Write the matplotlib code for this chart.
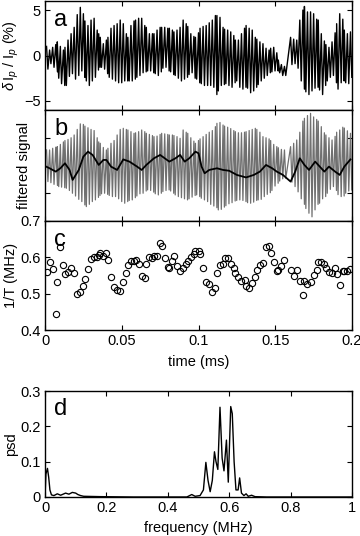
import numpy as np
import matplotlib
matplotlib.use("Agg")
import matplotlib.pyplot as plt

plt.rcParams['font.family'] = ['Liberation Sans', 'DejaVu Sans']
plt.rcParams['mathtext.fontset'] = 'custom'
plt.rcParams['mathtext.rm'] = 'Liberation Sans'
plt.rcParams['mathtext.it'] = 'Liberation Sans:italic'

# ---- data ----

# panel c: one point per oscillation period (time in ms, 1/T in MHz)
cycle_t = [0.001, 0.003, 0.005, 0.007, 0.008, 0.010, 0.012, 0.013, 0.015, 0.017,
           0.019, 0.021, 0.023, 0.025, 0.026, 0.028, 0.030, 0.032, 0.034, 0.035,
           0.036, 0.038, 0.040, 0.041, 0.043, 0.045, 0.047, 0.049, 0.051, 0.053,
           0.054, 0.056, 0.058, 0.059, 0.061, 0.063, 0.065, 0.066, 0.068, 0.070,
           0.071, 0.073, 0.075, 0.076, 0.078, 0.080, 0.081, 0.083, 0.084, 0.086,
           0.088, 0.090, 0.092, 0.093, 0.095, 0.097, 0.098, 0.100, 0.101, 0.103,
           0.105, 0.107, 0.109, 0.111, 0.112, 0.114, 0.116, 0.117, 0.119, 0.121,
           0.123, 0.124, 0.126, 0.128, 0.130, 0.131, 0.133, 0.135, 0.137, 0.138,
           0.140, 0.142, 0.144, 0.146, 0.147, 0.149, 0.151, 0.152, 0.154, 0.156,
           0.160, 0.162, 0.164, 0.166, 0.168, 0.169, 0.171, 0.173, 0.175, 0.177,
           0.178, 0.180, 0.182, 0.183, 0.185, 0.187, 0.189, 0.190, 0.192, 0.194,
           0.195, 0.197, 0.199]
cycle_f = [0.560, 0.588, 0.568, 0.444, 0.532, 0.628, 0.580, 0.553, 0.560, 0.570,
           0.558, 0.499, 0.504, 0.521, 0.541, 0.569, 0.596, 0.600, 0.601, 0.606,
           0.613, 0.603, 0.613, 0.592, 0.545, 0.517, 0.510, 0.507, 0.532, 0.557,
           0.580, 0.590, 0.590, 0.594, 0.583, 0.550, 0.543, 0.583, 0.602, 0.599,
           0.605, 0.605, 0.640, 0.631, 0.599, 0.574, 0.570, 0.591, 0.605, 0.577,
           0.563, 0.570, 0.582, 0.589, 0.602, 0.608, 0.618, 0.617, 0.609, 0.570,
           0.533, 0.527, 0.505, 0.516, 0.558, 0.580, 0.583, 0.597, 0.597, 0.582,
           0.572, 0.558, 0.547, 0.536, 0.538, 0.521, 0.516, 0.528, 0.545, 0.565,
           0.579, 0.585, 0.629, 0.631, 0.611, 0.586, 0.562, 0.565, 0.577, 0.594,
           0.566, 0.549, 0.566, 0.534, 0.495, 0.534, 0.527, 0.531, 0.551, 0.566,
           0.586, 0.586, 0.582, 0.570, 0.559, 0.558, 0.570, 0.553, 0.524, 0.563,
           0.562, 0.562, 0.567]

# panel a: max / min of each period (%)
raw_max = [1.0, 0.6, 0.9, 1.2, 1.5, 1.0, 0.6, 0.9, 1.7, 2.4,
           3.1, 4.5, 5.3, 4.6, 3.8, 3.3, 3.9, 4.1, 2.8, 2.4,
           2.0, 1.3, 1.7, 2.0, 3.0, 3.3, 3.5, 3.9, 3.5, 2.4,
           2.0, 3.3, 3.8, 3.9, 4.1, 4.1, 3.3, 3.1, 2.4, 2.4,
           2.4, 2.8, 3.1, 3.1, 3.1, 3.0, 3.0, 2.8, 2.6, 2.8,
           3.1, 3.9, 3.5, 3.2, 2.4, 2.1, 2.0, 2.5, 3.0, 3.2,
           3.3, 3.6, 3.9, 4.4, 4.4, 4.2, 3.1, 2.9, 2.8, 2.6,
           2.2, 1.7, 1.7, 2.4, 3.0, 3.3, 3.0, 2.8, 2.0, 1.8,
           1.5, 1.3, 0.8, 0.6, 0.8, 0.9, 0.3, -0.5, -1.0, -1.2,
           2.0, 1.8, 1.7, 3.9, 5.0, 5.4, 4.8, 4.8, 4.6, 4.0,
           3.9, 2.4, 1.6, 1.2, 0.9, 1.5, 2.5, 3.5, 4.6, 4.0,
           2.8, 2.4, 2.6]
raw_min = [-1.5, -0.9, -1.3, -1.8, -2.5, -3.1, -3.3, -3.3, -2.3, -2.0,
           -2.6, -2.2, -1.7, -2.4, -2.8, -3.3, -2.8, -2.4, -1.6, -1.3,
           -1.3, -1.5, -2.0, -2.4, -2.6, -2.8, -3.0, -3.0, -2.8, -2.8,
           -2.8, -2.8, -2.6, -2.4, -2.2, -1.9, -1.8, -1.7, -1.7, -1.9,
           -2.0, -2.2, -1.8, -1.4, -1.3, -1.7, -1.8, -2.1, -2.2, -2.5,
           -2.8, -2.6, -2.4, -2.1, -1.9, -2.5, -2.6, -3.0, -3.1, -3.3,
           -3.3, -3.3, -3.5, -4.3, -3.9, -3.3, -3.2, -3.1, -3.3, -3.5,
           -3.0, -2.8, -3.5, -3.7, -3.5, -3.6, -4.1, -3.9, -3.5, -3.2,
           -2.8, -2.5, -2.2, -1.9, -1.8, -1.7, -1.7, -1.9, -2.2, -2.2,
           -1.0, -0.9, -1.4, -2.8, -3.7, -4.0, -4.3, -3.9, -3.6, -3.5,
           -3.8, -4.3, -3.3, -2.8, -2.4, -2.2, -3.0, -3.7, -3.0, -2.8,
           -3.0, -3.1, -2.4]

# panel b: band-pass filtered signal, max / min of each period
filt_max = [0.56, 0.56, 0.62, 0.66, 0.68, 0.76, 0.85, 0.90, 0.94, 1.00,
            1.10, 1.30, 1.50, 1.48, 1.42, 1.36, 1.30, 1.26, 1.00, 0.85,
            0.80, 0.65, 0.56, 0.62, 0.80, 0.90, 1.10, 1.30, 1.34, 1.30,
            1.28, 1.22, 1.16, 1.18, 1.22, 1.28, 1.22, 1.16, 1.12, 1.08,
            1.04, 1.06, 1.12, 1.16, 1.14, 1.12, 1.10, 1.10, 1.08, 1.04,
            0.98, 1.28, 1.20, 1.16, 1.00, 0.88, 0.80, 0.90, 0.96, 1.04,
            1.12, 1.20, 1.26, 1.40, 1.52, 1.55, 1.46, 1.42, 1.38, 1.33,
            1.26, 1.22, 1.18, 1.18, 1.20, 1.22, 1.26, 1.30, 1.34, 1.30,
            1.20, 1.04, 1.00, 0.96, 0.90, 0.76, 0.68, 0.64, 0.58, 0.56,
            0.68, 0.80, 0.92, 1.20, 1.60, 1.70, 1.80, 1.88, 1.75, 1.66,
            1.60, 1.40, 1.18, 1.10, 1.00, 0.92, 1.05, 1.20, 1.28, 1.38,
            1.35, 1.25, 1.16]
filt_min = [-0.58, -0.62, -0.68, -0.72, -0.76, -0.78, -0.80, -0.82, -0.90, -1.00,
            -1.10, -1.22, -1.30, -1.42, -1.48, -1.40, -1.30, -1.24, -1.15, -1.08,
            -1.02, -1.00, -1.04, -1.08, -1.12, -1.12, -1.20, -1.30, -1.36, -1.30,
            -1.26, -1.24, -1.16, -1.10, -1.02, -1.00, -0.92, -0.88, -0.90, -0.96,
            -1.02, -1.06, -1.00, -0.94, -0.90, -0.88, -0.92, -1.00, -1.06, -1.12,
            -1.16, -1.20, -1.24, -1.20, -1.14, -1.08, -1.06, -1.12, -1.18, -1.24,
            -1.30, -1.40, -1.46, -1.52, -1.60, -1.58, -1.50, -1.45, -1.38, -1.34,
            -1.28, -1.26, -1.24, -1.26, -1.30, -1.34, -1.36, -1.32, -1.26, -1.24,
            -1.22, -1.12, -1.04, -0.98, -0.90, -0.74, -0.64, -0.56, -0.48, -0.46,
            -0.60, -0.76, -0.95, -1.20, -1.40, -1.55, -1.72, -1.85, -1.60, -1.40,
            -1.36, -1.20, -1.12, -1.00, -0.86, -0.76, -0.90, -1.05, -1.12, -1.10,
            -1.00, -0.92, -0.88]

# panel b: low-frequency component (black curve)
slow_t = [0.000, 0.003, 0.007, 0.010, 0.013, 0.016, 0.018, 0.022, 0.025, 0.028,
          0.031, 0.035, 0.038, 0.040, 0.043, 0.047, 0.051, 0.055, 0.060, 0.063,
          0.066, 0.071, 0.075, 0.078, 0.081, 0.085, 0.088, 0.091, 0.094, 0.098,
          0.100, 0.102, 0.104, 0.107, 0.112, 0.116, 0.120, 0.125, 0.131, 0.136,
          0.140, 0.144, 0.148, 0.151, 0.155, 0.160, 0.163, 0.166, 0.169, 0.172,
          0.176, 0.179, 0.182, 0.185, 0.189, 0.192, 0.195, 0.199]
slow_v = [-0.02, -0.10, -0.22, -0.10, 0.08, -0.16, -0.52, -0.16, 0.32, 0.50,
          0.38, 0.02, 0.20, 0.20, -0.04, -0.16, 0.22, 0.14, -0.04, -0.16,
          0.02, 0.26, 0.38, 0.26, 0.14, 0.26, 0.38, 0.14, 0.26, 0.50,
          0.44, -0.04, -0.28, -0.16, -0.10, -0.16, -0.19, -0.34, -0.43, -0.34,
          -0.22, 0.02, -0.10, -0.22, -0.34, -0.58, -0.22, 0.26, 0.02, -0.16,
          0.14, -0.04, -0.22, -0.04, -0.22, -0.34, -0.04, 0.22]

# panel d: power spectral density
freq = [0.0, 0.003, 0.008, 0.012, 0.016, 0.021, 0.029, 0.040, 0.051, 0.067,
        0.078, 0.089, 0.100, 0.107, 0.116, 0.126, 0.181, 0.289, 0.376, 0.462,
        0.478, 0.489, 0.505, 0.516, 0.524, 0.531, 0.538, 0.545, 0.552, 0.557,
        0.563, 0.570, 0.577, 0.583, 0.591, 0.597, 0.605, 0.610, 0.616, 0.622,
        0.629, 0.634, 0.640, 0.648, 0.655, 0.662, 0.673, 0.684, 0.722, 1.0]
psd = [0.0, 0.065, 0.081, 0.056, 0.020, 0.006, 0.004, 0.009, 0.005, 0.011,
       0.008, 0.013, 0.011, 0.007, 0.004, 0.002, 0.001, 0.0, 0.0, 0.0,
       0.007, 0.002, 0.004, 0.020, 0.098, 0.047, 0.015, 0.047, 0.128, 0.100,
       0.078, 0.254, 0.110, 0.074, 0.161, 0.042, 0.256, 0.236, 0.100, 0.020,
       0.020, 0.054, 0.011, 0.004, 0.009, 0.002, 0.005, 0.001, 0.0, 0.0]

time_ticks = [0, 0.05, 0.1, 0.15, 0.2]
time_labels = ['0', '0.05', '0.1', '0.15', '0.2']
freq_ticks = [0, 0.2, 0.4, 0.6, 0.8, 1]
freq_labels = ['0', '0.2', '0.4', '0.6', '0.8', '1']

FS = 10.5


def zigzag(t, f, hi, lo):
    # peak at the start of each period, trough half a period later
    t = np.asarray(t)
    half = 0.5 / (np.asarray(f) * 1000.0)
    x = np.column_stack([t, t + half]).ravel()
    y = np.column_stack([hi, lo]).ravel()
    return x, y


def style(ax):
    ax.tick_params(direction='in', top=True, right=True, length=3.5,
                   width=0.8, labelsize=FS, pad=3)
    for s in ax.spines.values():
        s.set_linewidth(1.0)


fig = plt.figure(figsize=(3.6, 5.36), dpi=100)
L, W = 45 / 360, 307 / 360

def box(top_px, bot_px):
    return [L, 1 - bot_px / 536, W, (bot_px - top_px) / 536]

ax_a = fig.add_axes(box(1, 110))
ax_b = fig.add_axes(box(110, 221))
ax_c = fig.add_axes(box(221, 330))
ax_d = fig.add_axes(box(391, 497))

# a
xa, ya = zigzag(cycle_t, cycle_f, raw_max, raw_min)
ax_a.plot(xa, ya, color='black', lw=1.0)
ax_a.set_xlim(0, 0.2)
ax_a.set_ylim(-6, 6)
ax_a.set_yticks([-5, 0, 5])
ax_a.set_yticklabels(['\u22125', '0', '5'])
ax_a.set_xticks(time_ticks)
ax_a.set_xticklabels([])
ax_a.set_ylabel(r'$\delta\,$I$_p$ / I$_p$ (%)', fontsize=FS, labelpad=2)
ax_a.text(0.03, 0.93, 'a', transform=ax_a.transAxes, fontsize=17, va='top')

# b
xb, yb = zigzag(cycle_t, cycle_f, filt_max, filt_min)
ax_b.plot(xb, yb, color='#707070', lw=0.9)
ax_b.plot(slow_t, slow_v, color='black', lw=1.3)
ax_b.set_xlim(0, 0.2)
ax_b.set_ylim(-2, 2)
ax_b.set_yticks([-1, 1])
ax_b.set_yticklabels([])
ax_b.set_xticks(time_ticks)
ax_b.set_xticklabels([])
ax_b.set_ylabel('filtered signal', fontsize=FS, labelpad=7)
ax_b.text(0.03, 0.93, 'b', transform=ax_b.transAxes, fontsize=17, va='top')

# c
ax_c.plot(cycle_t, cycle_f, 'o', mfc='none', mec='black', ms=4.5, mew=0.8)
ax_c.set_xlim(0, 0.2)
ax_c.set_ylim(0.4, 0.7)
ax_c.set_yticks([0.4, 0.5, 0.6, 0.7])
ax_c.set_yticklabels(['0.4', '0.5', '0.6', '0.7'])
ax_c.set_xticks(time_ticks)
ax_c.set_xticklabels(time_labels)
ax_c.set_xlabel('time (ms)', fontsize=FS, labelpad=5)
ax_c.set_ylabel('1/T (MHz)', fontsize=FS, labelpad=2)
ax_c.text(0.03, 0.93, 'c', transform=ax_c.transAxes, fontsize=17, va='top')

# d
ax_d.plot(freq, psd, color='black', lw=1.0)
ax_d.set_xlim(0, 1)
ax_d.set_ylim(0, 0.3)
ax_d.set_yticks([0, 0.1, 0.2, 0.3])
ax_d.set_yticklabels(['0', '0.1', '0.2', '0.3'])
ax_d.set_xticks(freq_ticks)
ax_d.set_xticklabels(freq_labels)
ax_d.set_xlabel('frequency (MHz)', fontsize=FS, labelpad=4)
ax_d.set_ylabel('psd', fontsize=FS, labelpad=2)
ax_d.text(0.03, 0.93, 'd', transform=ax_d.transAxes, fontsize=17, va='top')

for ax in (ax_a, ax_b, ax_c, ax_d):
    style(ax)

fig.savefig('out.png', dpi=100)
